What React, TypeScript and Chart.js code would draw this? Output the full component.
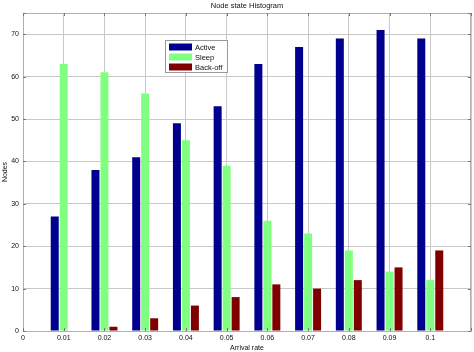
import React, { useEffect, useRef } from "react";
import { Chart, registerables } from "chart.js";

Chart.register(...registerables);

const arrivalRates = [0.01, 0.02, 0.03, 0.04, 0.05, 0.06, 0.07, 0.08, 0.09, 0.1];
const activeNodes = [27, 38, 41, 49, 53, 63, 67, 69, 71, 69];
const sleepNodes = [63, 61, 56, 45, 39, 26, 23, 19, 14, 12];
const backoffNodes = [0, 1, 3, 6, 8, 11, 10, 12, 15, 19];
const seriesNames = ["Active", "Sleep", "Back-off"];
const seriesColors = ["#00008F", "#80FF80", "#800000"];

const FONT = "'Liberation Sans', Arial, Helvetica, sans-serif";

const matlabFrame = {
  id: "matlabFrame",
  afterDraw(chart: any) {
    const ctx = chart.ctx;
    const a = chart.chartArea;
    const xs = chart.scales.x;
    const ys = chart.scales.y;
    ctx.save();
    // frame top & right
    ctx.strokeStyle = "#b0b0b0";
    ctx.lineWidth = 1;
    ctx.beginPath();
    ctx.moveTo(a.left + 0.5, a.top + 0.5);
    ctx.lineTo(a.right - 0.5, a.top + 0.5);
    ctx.lineTo(a.right - 0.5, a.bottom - 0.5);
    ctx.stroke();
    // inner tick marks
    ctx.strokeStyle = "#777";
    ctx.beginPath();
    xs.ticks.forEach((t: any) => {
      const px = Math.round(xs.getPixelForValue(t.value)) + 0.5;
      ctx.moveTo(px, a.top);
      ctx.lineTo(px, a.top + 3);
      ctx.moveTo(px, a.bottom);
      ctx.lineTo(px, a.bottom - 3);
    });
    ys.ticks.forEach((t: any) => {
      const py = Math.round(ys.getPixelForValue(t.value)) + 0.5;
      ctx.moveTo(a.left, py);
      ctx.lineTo(a.left + 3, py);
      ctx.moveTo(a.right, py);
      ctx.lineTo(a.right - 3, py);
    });
    ctx.stroke();

    // title
    ctx.fillStyle = "#111";
    ctx.font = `7.5px ${FONT}`;
    ctx.textAlign = "center";
    ctx.textBaseline = "middle";
    ctx.fillText("Node state Histogram", (a.left + a.right) / 2, 6);

    // legend
    const lx = 165, ly = 40, lw = 62, lh = 32;
    ctx.fillStyle = "#ffffff";
    ctx.fillRect(lx, ly, lw, lh);
    ctx.strokeStyle = "#999";
    ctx.strokeRect(lx + 0.5, ly + 0.5, lw, lh);
    chart.data.datasets.forEach((ds: any, i: number) => {
      const cy = ly + 7 + i * 10;
      ctx.fillStyle = ds.backgroundColor;
      ctx.fillRect(lx + 4, cy - 3.5, 23, 7);
      ctx.fillStyle = "#111";
      ctx.textAlign = "left";
      ctx.font = `7.5px ${FONT}`;
      ctx.fillText(ds.label, lx + 30, cy + 0.5);
    });
    ctx.restore();
  },
};

export default function App() {
  const ref = useRef<HTMLCanvasElement | null>(null);
  useEffect(() => {
    document.body.style.margin = "0";
    const seriesValues = [activeNodes, sleepNodes, backoffNodes];
    const chart = new Chart(ref.current as HTMLCanvasElement, {
      type: "bar",
      data: {
        datasets: seriesValues.map((vals, i) => ({
          label: seriesNames[i],
          data: arrivalRates.map((x, j) => ({ x, y: vals[j] })),
          backgroundColor: seriesColors[i],
          borderWidth: 0,
          categoryPercentage: 0.662,
          barPercentage: 0.89,
        })),
      },
      options: {
        responsive: false,
        animation: false,
        layout: { padding: { top: 13, right: 2, left: 0, bottom: 0 } },
        plugins: {
          legend: { display: false },
          title: { display: false },
          tooltip: { enabled: false },
        },
        scales: {
          x: {
            type: "linear",
            min: 0,
            max: 0.11,
            offset: false,
            afterFit: (s: any) => {
              s.height = 21;
            },
            ticks: {
              stepSize: 0.01,
              padding: 3,
              maxRotation: 0,
              autoSkip: false,
              color: "#111",
              font: { family: FONT, size: 7 },
              callback: (v: any) => {
                const r = Math.round(Number(v) * 100) / 100;
                if (r > 0.1) return "";
                return String(r);
              },
            },
            grid: { color: "#c8c8c8", drawTicks: false, offset: false },
            border: { color: "#b0b0b0" },
            title: {
              display: true,
              text: "Arrival rate",
              color: "#111",
              font: { family: FONT, size: 7 },
              padding: { top: 0, bottom: 0 },
            },
          },
          y: {
            min: 0,
            max: 75,
            afterFit: (s: any) => {
              s.width = 23;
            },
            ticks: {
              stepSize: 10,
              padding: 4,
              color: "#111",
              font: { family: FONT, size: 7 },
              callback: (v: any) => (Number(v) > 70 ? "" : String(v)),
            },
            grid: { color: "#c8c8c8", drawTicks: false },
            border: { color: "#b0b0b0" },
            title: {
              display: true,
              text: "Nodes",
              color: "#111",
              font: { family: FONT, size: 7 },
              padding: { top: 1, bottom: 0 },
            },
          },
        },
      },
      plugins: [matlabFrame],
    } as any);
    return () => chart.destroy();
  }, []);
  return (
    <div style={{ position: "absolute", left: 0, top: 0, width: 474, height: 352, background: "#fff" }}>
      <canvas ref={ref} width={474} height={352} style={{ width: 474, height: 352 }} />
    </div>
  );
}
